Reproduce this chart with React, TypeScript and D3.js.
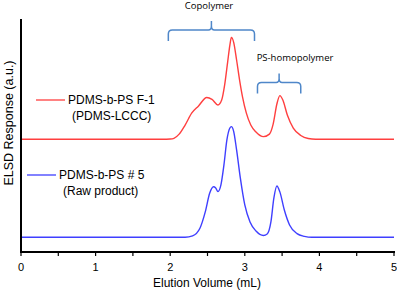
import React from "react";
import * as d3 from "d3";

// elution volume (mL) / ELSD response (a.u.)
const redX = [0, 1.9, 2.0, 2.05, 2.12, 2.2, 2.29, 2.38, 2.49, 2.56, 2.64, 2.69, 2.73, 2.77, 2.8, 2.82, 2.85, 2.89, 2.93, 2.97, 3.02, 3.08, 3.15, 3.25, 3.33, 3.38, 3.43, 3.47, 3.51, 3.57, 3.65, 3.75, 3.85, 3.95, 5.0];
const redY = [48.4, 48.4, 48.5, 48.8, 50.6, 54.5, 59.7, 62.7, 66.3, 65.5, 63.1, 65.2, 71.7, 81.5, 88.8, 92.1, 90.1, 82.4, 73.8, 66.5, 59.7, 54.5, 51.5, 49.5, 50.6, 54.9, 63.5, 67.1, 65.2, 58.8, 53.2, 50.0, 48.7, 48.4, 48.4];

const blueX = [0, 2.2, 2.3, 2.4, 2.47, 2.53, 2.58, 2.61, 2.64, 2.68, 2.72, 2.76, 2.8, 2.82, 2.85, 2.89, 2.94, 3.0, 3.07, 3.15, 3.25, 3.3, 3.35, 3.39, 3.43, 3.47, 3.53, 3.6, 3.7, 3.8, 3.9, 5.0];
const blueY = [6.3, 6.3, 6.9, 10.3, 17.2, 25.3, 28.0, 27.5, 25.9, 28.8, 37.3, 48.1, 53.2, 53.8, 51.9, 43.8, 31.8, 20.2, 12.9, 9.0, 7.1, 7.7, 12.9, 23.2, 28.3, 25.8, 18.0, 11.6, 7.9, 6.7, 6.3, 6.3];

const xTicks = [0, 1, 2, 3, 4, 5];
const minorTicks = [0.5, 1.5, 2.5, 3.5, 4.5];

// annotation braces: [start, end, level]
const braceLabels = ["Copolymer", "PS-homopolymer"];
const braceStart = [1.975, 3.17];
const braceEnd = [3.13, 3.75];
const braceLevel = [95.3, 72.7];

const legendNames = [["PDMS-b-PS F-1", "(PDMS-LCCC)"], ["PDMS-b-PS # 5", "(Raw product)"]];
const colors = ["#ff3f3f", "#3f3fff"];

export default function App() {
  const width = 397;
  const height = 290;
  const x = d3.scaleLinear().domain([0, 5]).range([21, 394]);
  const y = d3.scaleLinear().domain([0, 100]).range([252, 19]);

  const line = d3
    .line<[number, number]>()
    .x((d) => x(d[0]))
    .y((d) => y(d[1]))
    .curve(d3.curveMonotoneX);

  const series = [
    redX.map((v, i) => [v, redY[i]] as [number, number]),
    blueX.map((v, i) => [v, blueY[i]] as [number, number]),
  ];

  function brace(i: number) {
    const x0 = x(braceStart[i]);
    const x1 = x(braceEnd[i]);
    const yl = y(braceLevel[i]);
    const xm = (x0 + x1) / 2;
    const r = 4;
    return `M${x0},${yl + 11} L${x0},${yl + r} Q${x0},${yl} ${x0 + r},${yl} L${xm - 3},${yl} Q${xm},${yl} ${xm},${yl - 4} L${xm},${yl - 9} M${xm},${yl - 4} Q${xm},${yl} ${xm + 3},${yl} L${x1 - r},${yl} Q${x1},${yl} ${x1},${yl + r} L${x1},${yl + 11}`;
  }

  const legendY = [100, 175];
  const legendX = [36, 27];

  return (
    <svg width={width} height={height} style={{ position: "absolute", left: 0, top: 0, background: "#fff" }} fontFamily="Liberation Sans, Arial, sans-serif">
      {series.map((s, i) => (
        <path key={i} d={line(s) || ""} fill="none" stroke={colors[i]} strokeWidth={1.4} />
      ))}
      {/* axes */}
      <line x1={21} x2={21} y1={19} y2={253} stroke="#000" strokeWidth={2} />
      <line x1={20} x2={395} y1={252} y2={252} stroke="#000" strokeWidth={2} />
      {xTicks.concat(minorTicks).map((t) => (
        <line key={t} x1={x(t)} x2={x(t)} y1={252} y2={256} stroke="#000" strokeWidth={1.2} />
      ))}
      {xTicks.map((t) => (
        <text key={t} x={x(t)} y={271} fontSize={11} textAnchor="middle">{t}</text>
      ))}
      <text x={207} y={287} fontSize={12} textAnchor="middle">Elution Volume (mL)</text>
      <text transform="translate(13,123) rotate(-90)" fontSize={12.5} textAnchor="middle">ELSD Response (a.u.)</text>
      {/* braces */}
      {braceLabels.map((b, i) => (
        <g key={b}>
          <path d={brace(i)} fill="none" stroke="#4f87c9" strokeWidth={1.5} />
          <text x={i === 0 ? 209 : 295} y={i === 0 ? 9 : 61} fontSize={9.5} fontFamily="Open Sans, sans-serif" textAnchor="middle">{b}</text>
        </g>
      ))}
      {/* legend */}
      {legendNames.map((n, i) => (
        <g key={i}>
          <line x1={legendX[i]} x2={legendX[i] + 29} y1={legendY[i]} y2={legendY[i]} stroke={colors[i]} strokeWidth={1.3} />
          <text x={legendX[i] + 32} y={legendY[i] + 4} fontSize={12}>{n[0]}</text>
          <text x={legendX[i] + 36} y={legendY[i] + 20} fontSize={12}>{n[1]}</text>
        </g>
      ))}
    </svg>
  );
}
